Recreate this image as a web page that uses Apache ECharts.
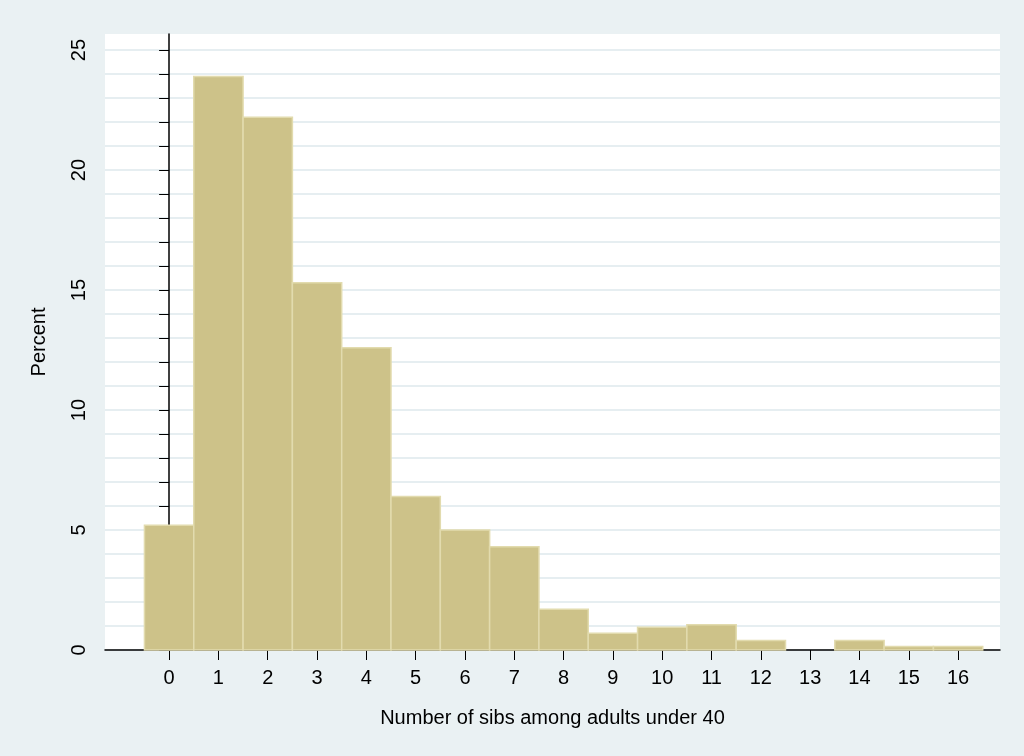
<!DOCTYPE html>
<html><head><meta charset="utf-8">
<script src="https://cdn.jsdelivr.net/npm/echarts@6/dist/echarts.min.js"></script>
<style>html,body{margin:0;padding:0;background:#eaf1f3}#c{width:1024px;height:756px}</style>
</head><body><div id="c"></div>
<script>
const categories = [0,1,2,3,4,5,6,7,8,9,10,11,12,13,14,15,16];
const percents = [5.2,23.9,22.2,15.3,12.6,6.4,5.0,4.3,1.7,0.7,0.95,1.05,0.4,0,0.4,0.15,0.15];
const yTicks = Array.from({length:26},(_, i)=>i);
const chart = echarts.init(document.getElementById('c'));
chart.setOption({
  backgroundColor:'#eaf1f3',
  animation:false,
  grid:{left:105,right:24,top:34,bottom:106,show:true,backgroundColor:'#fff',borderWidth:0},
  xAxis:{type:'value',min:-1.3,max:16.85,
    name:'Number of sibs among adults under 40',nameLocation:'middle',nameGap:58,
    nameTextStyle:{fontSize:20,color:'#000',fontFamily:'Liberation Sans'},
    axisLine:{show:true,lineStyle:{color:'#000',width:1.5}},
    axisTick:{show:true,length:10,customValues:categories,lineStyle:{color:'#000'}},
    axisLabel:{customValues:categories,fontSize:20,color:'#000',margin:18,fontFamily:'Liberation Sans'},
    splitLine:{show:false}},
  yAxis:{type:'value',min:0,max:25.67,
    name:'Percent',nameLocation:'middle',nameGap:56,
    nameTextStyle:{fontSize:20,color:'#000',fontFamily:'Liberation Sans'},
    axisLine:{show:true,lineStyle:{color:'#000',width:1.5}},
    axisTick:{show:true,length:10,customValues:yTicks,lineStyle:{color:'#000'}},
    axisLabel:{customValues:[0,5,10,15,20,25],rotate:90,fontSize:20,color:'#000',margin:16,fontFamily:'Liberation Sans'},
    splitLine:{show:true,customValues:yTicks.slice(1),lineStyle:{color:'#e6eef1',width:2}}},
  series:[{type:'custom',
    data:categories.map((c,i)=>[c,percents[i]]),
    renderItem:function(params,api){
      const x=api.value(0), y=api.value(1);
      if(!y) return null;
      const p0=api.coord([x-0.5,y]), p1=api.coord([x+0.5,0]);
      return {type:'rect',shape:{x:p0[0],y:p0[1],width:p1[0]-p0[0],height:p1[1]-p0[1]},
        style:{fill:'#cdc289',stroke:'#e2dbae',lineWidth:1.5}};
    }}]
});
</script></body></html>
